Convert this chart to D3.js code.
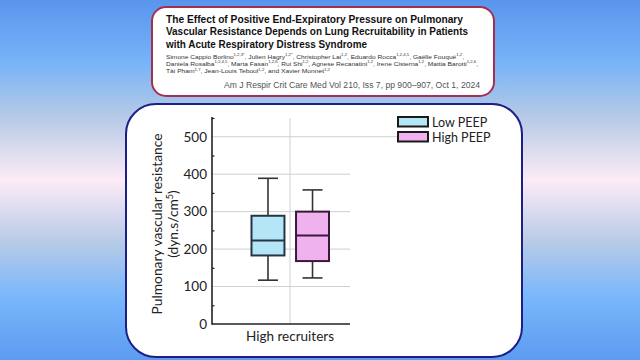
<!DOCTYPE html>
<html><head><meta charset="utf-8">
<script src="https://cdn.jsdelivr.net/npm/d3@7"></script>
<style>html,body{margin:0;padding:0;overflow:hidden;width:640px;height:360px}</style>
</head><body><svg id="c" width="640" height="360"></svg>
<script>
// ---- data ----
const categories = ["High recruiters"];
const series = ["Low PEEP", "High PEEP"];
const whiskerLow  = [117, 123];
const q1          = [183, 168];
const median      = [223, 236];
const q3          = [289, 300];
const whiskerHigh = [389, 358];
const yTicks = [0, 100, 200, 300, 400, 500];
const yMinorTicks = [50, 150, 250, 350, 450, 550];
const yLabel1 = "Pulmonary vascular resistance";
const titleLines = [
  "The Effect of Positive End-Expiratory Pressure on Pulmonary",
  "Vascular Resistance Depends on Lung Recruitability in Patients",
  "with Acute Respiratory Distress Syndrome"
];
const authorLines = [
  [["Simone Cappio Borlino","1,2,3*"],[", Julien Hagry","1,2*"],[", Christopher Lai","1,2"],[", Eduardo Rocca","1,2,4,5"],[", Gaëlle Fouqué","1,2"],[",",""]],
  [["Daniela Rosalba","1,2,4,5"],[", Marta Fasan","1,2,6"],[", Rui Shi","1,2"],[", Agnese Recanatini","1,2"],[", Irene Cisterna","1,2"],[", Mattia Barotti","1,2,6"],[",",""]],
  [["Tài Pham","1,7"],[", Jean-Louis Teboul","1,2"],[", and Xavier Monnet","1,2"]]
];
const journal = "Am J Respir Crit Care Med Vol 210, Iss 7, pp 900–907, Oct 1, 2024";

const colors = {"Low PEEP": "#b5e6f7", "High PEEP": "#f0b2ee"};
const strokes = {"Low PEEP": "#263544", "High PEEP": "#3a1838"};

const svg = d3.select("#c");
const defs = svg.append("defs");
const g = defs.append("linearGradient").attr("id","bg").attr("x1",0).attr("y1",0).attr("x2",0).attr("y2",1);
[[0,"#5a95ed"],[0.17,"#76b3f8"],[0.32,"#b4c9e6"],[0.5,"#fdebf6"],[0.67,"#b8cbe7"],[0.83,"#78b6fb"],[1,"#5c9bf0"]]
  .forEach(([o,c])=>g.append("stop").attr("offset",o).attr("stop-color",c));
svg.append("rect").attr("width",640).attr("height",360).attr("fill","url(#bg)");

// ---- title box ----
svg.append("rect").attr("x",152).attr("y",7).attr("width",342).attr("height",89)
  .attr("rx",14).attr("fill","#fff").attr("stroke","#a3304e").attr("stroke-width",2);
const titleW = [297, 302, 201];
const titleY = [22.5, 35, 47.5];
titleLines.forEach((t,i)=>{
  svg.append("text").attr("x",166).attr("y",titleY[i]).text(t)
    .attr("font-family","Liberation Sans, Arial, sans-serif").attr("font-weight","bold")
    .attr("font-size",11).attr("fill","#111")
    .attr("textLength",titleW[i]).attr("lengthAdjust","spacingAndGlyphs");
});
const authW = [298, 312, 164];
const authY = [58.5, 65.5, 73];
authorLines.forEach((parts,i)=>{
  const t = svg.append("text").attr("x",166).attr("y",authY[i])
    .attr("font-family","Liberation Sans, Arial, sans-serif").attr("font-size",5.6).attr("fill","#333")
    .attr("textLength",authW[i]).attr("lengthAdjust","spacingAndGlyphs");
  let pending = 0;
  parts.forEach(([name,sup])=>{
    t.append("tspan").text(name).attr("font-size",5.6).attr("dy",pending);
    pending = 0;
    if(sup){ t.append("tspan").text(sup).attr("font-size",3.6).attr("dy",-2.2); pending = 2.2; }
  });
});
svg.append("text").attr("x",480).attr("y",87.5).attr("text-anchor","end").text(journal)
  .attr("font-family","Liberation Sans, Arial, sans-serif").attr("font-size",8.4).attr("fill","#555")
  .attr("textLength",256).attr("lengthAdjust","spacingAndGlyphs");

// ---- chart panel ----
svg.append("rect").attr("x",126).attr("y",104).attr("width",396).attr("height",253)
  .attr("rx",30).attr("fill","#fff").attr("stroke","#1c1f86").attr("stroke-width",2);

const x0 = 212, x1 = 350, yB = 324, yT = 118;
const y = d3.scaleLinear().domain([0,550]).range([yB, yT]);
const x = d3.scaleBand().domain(categories).range([x0, x0 + 156]);
const xs = d3.scaleBand().domain(series).range([39.5, 117]).paddingInner(0.26);

const font = "Lato, 'Open Sans', sans-serif";

// gridlines
const grid = svg.append("g");
yTicks.filter(v=>v>0).forEach(v=>{
  grid.append("line").attr("x1",x0).attr("x2", v===500 ? 397 : x1)
    .attr("y1",y(v)).attr("y2",y(v)).attr("stroke","#cfcfcf").attr("stroke-width",1);
});
categories.forEach(c=>{
  const cx = x(c) + x.bandwidth()/2;
  grid.append("line").attr("x1",cx).attr("x2",cx).attr("y1",yT).attr("y2",yB)
    .attr("stroke","#cfcfcf").attr("stroke-width",1);
});

// y axis
const ya = svg.append("g").attr("transform",`translate(${x0},0)`)
  .call(d3.axisLeft(y).tickValues(yTicks).tickSize(0).tickPadding(5).tickFormat(d3.format("d")));
ya.select(".domain").remove();
ya.selectAll("text").attr("font-family",font).attr("font-size",13.5).attr("fill","#222");
const ym = svg.append("g").attr("transform",`translate(${x0},0)`)
  .call(d3.axisRight(y).tickValues(yMinorTicks).tickSize(2.5).tickFormat(""));
ym.select(".domain").remove();
ym.selectAll("line").attr("stroke","#222").attr("stroke-width",1.2);
svg.append("line").attr("x1",x0).attr("x2",x0).attr("y1",y(553)).attr("y2",yB+0.7)
  .attr("stroke","#222").attr("stroke-width",1.6);

// x axis
const xa = svg.append("g").attr("transform",`translate(0,${yB})`)
  .call(d3.axisBottom(x).tickSize(0).tickPadding(7));
xa.select(".domain").remove();
xa.selectAll("text").attr("font-family",font).attr("font-size",13.5).attr("fill","#222");
svg.append("line").attr("x1",x0).attr("x2",x1).attr("y1",yB).attr("y2",yB)
  .attr("stroke","#222").attr("stroke-width",1.6);

// y label
const yl = svg.append("text").attr("transform",`translate(162,${(yB+yT)/2+3}) rotate(-90)`)
  .attr("text-anchor","middle").attr("font-family",font).attr("font-size",13.8).attr("fill","#222");
yl.append("tspan").attr("x",0).attr("dy",0).attr("font-size",13.8).text(yLabel1);
yl.append("tspan").attr("x",0).attr("dy",16).attr("font-size",13.8).text("(dyn.s/cm");
yl.append("tspan").text("5").attr("font-size",9).attr("dy",-5.5);
yl.append("tspan").text(")").attr("font-size",13.8).attr("dy",5.5);

// boxes
categories.forEach(c=>{
  series.forEach((s,i)=>{
    const bx = x(c) + xs(s), bw = xs.bandwidth(), cx = bx + bw/2;
    const gg = svg.append("g");
    const st = strokes[s];
    gg.append("line").attr("x1",cx).attr("x2",cx).attr("y1",y(whiskerHigh[i])).attr("y2",y(q3[i]))
      .attr("stroke","#333").attr("stroke-width",1.6);
    gg.append("line").attr("x1",cx).attr("x2",cx).attr("y1",y(q1[i])).attr("y2",y(whiskerLow[i]))
      .attr("stroke","#333").attr("stroke-width",1.6);
    [whiskerHigh[i], whiskerLow[i]].forEach(v=>{
      gg.append("line").attr("x1",cx-10).attr("x2",cx+10).attr("y1",y(v)).attr("y2",y(v))
        .attr("stroke","#333").attr("stroke-width",1.6);
    });
    gg.append("rect").attr("x",bx).attr("y",y(q3[i])).attr("width",bw).attr("height",y(q1[i])-y(q3[i]))
      .attr("fill",colors[s]).attr("stroke",st).attr("stroke-width",2);
    gg.append("line").attr("x1",bx).attr("x2",bx+bw).attr("y1",y(median[i])).attr("y2",y(median[i]))
      .attr("stroke",st).attr("stroke-width",2);
  });
});

// legend
series.forEach((s,i)=>{
  const ly = 117 + i*15;
  svg.append("rect").attr("x",398).attr("y",ly).attr("width",30).attr("height",9.5)
    .attr("fill",colors[s]).attr("stroke","#1a1a1a").attr("stroke-width",2);
  svg.append("text").attr("x",432).attr("y",ly+9.5).text(s)
    .attr("font-family",font).attr("font-size",12.5).attr("fill","#222");
});
</script></body></html>
